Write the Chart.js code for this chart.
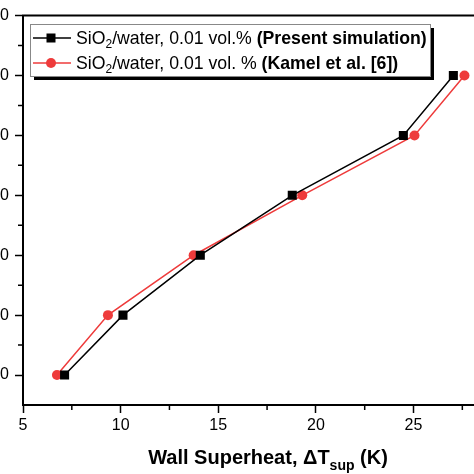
<!DOCTYPE html>
<html><head><meta charset="utf-8">
<script src="https://cdn.jsdelivr.net/npm/chart.js@4"></script>
<style>
html,body{margin:0;padding:0;width:474px;height:474px;overflow:hidden;background:#fff}
#wrap{position:absolute;left:-50px;top:0;width:540px;height:474px}
</style></head><body>
<div id="wrap"><canvas id="c" width="540" height="474"></canvas></div>
<script>
// Data
const simX = [7.13, 10.12, 14.08, 18.79, 24.48, 27.04];
const simY = [100, 200, 300, 400, 500, 600];
const kamelX = [6.74, 9.35, 13.74, 19.30, 25.05, 27.61];
const kamelY = [100, 200, 300, 400, 500, 600];
const xTicks = [5, 10, 15, 20, 25];
const xMinor = [7.5, 12.5, 17.5, 22.5, 27.5];
const yTicks = [100, 200, 300, 400, 500, 600, 700];
const yMinor = [150, 250, 350, 450, 550, 650];
const legendMain = ['/water, 0.01 vol.% ', '/water, 0.01 vol. % '];
const legendBold = ['(Present simulation)', '(Kamel et al. [6])'];
const xTitle = ['Wall Superheat, \u0394T', 'sup', ' (K)'];

const FONT = '"Liberation Sans", Arial, sans-serif';
const BLACK = '#000000';
const RED = '#ee3b3b';

const minorTicks = {
  id: 'minorTicks',
  afterDraw(chart) {
    const ctx = chart.ctx, xs = chart.scales.x, ys = chart.scales.y, a = chart.chartArea;
    ctx.save();
    ctx.strokeStyle = '#000'; ctx.lineWidth = 1.5;
    ctx.beginPath();
    xMinor.forEach(v => { const p = xs.getPixelForValue(v); ctx.moveTo(p, a.bottom); ctx.lineTo(p, a.bottom + 5); });
    yMinor.forEach(v => { const p = ys.getPixelForValue(v); ctx.moveTo(a.left, p); ctx.lineTo(a.left - 5, p); });
    ctx.stroke();
    // top frame
    ctx.lineWidth = 2;
    ctx.beginPath();
    ctx.moveTo(a.left - 1, a.top); ctx.lineTo(a.right, a.top); ctx.lineTo(a.right, a.bottom);
    ctx.stroke();
    // x title
    ctx.fillStyle = '#000';
    ctx.textBaseline = 'alphabetic';
    ctx.font = 'bold 20px ' + FONT;
    const w1 = ctx.measureText(xTitle[0]).width;
    const w3 = ctx.measureText(xTitle[2]).width;
    ctx.font = 'bold 14px ' + FONT;
    const w2 = ctx.measureText(xTitle[1]).width;
    const total = w1 + w2 + w3;
    let x = 318 - total / 2;
    const by = 464;
    ctx.font = 'bold 20px ' + FONT; ctx.fillText(xTitle[0], x, by); x += w1;
    ctx.font = 'bold 14px ' + FONT; ctx.fillText(xTitle[1], x, by + 6); x += w2;
    ctx.font = 'bold 20px ' + FONT; ctx.fillText(xTitle[2], x, by);
    // legend
    const bx = 80, byy = 24, bw = 400, bh = 52;
    ctx.fillStyle = '#000';
    ctx.fillRect(bx + 4, byy + 4, bw, bh);
    ctx.fillStyle = '#fff';
    ctx.fillRect(bx, byy, bw, bh);
    ctx.strokeStyle = '#888'; ctx.lineWidth = 1;
    ctx.strokeRect(bx + 0.5, byy + 0.5, bw, bh);
    const rows = [38, 63];
    chart.data.datasets.forEach((ds, i) => {
      const y = rows[i];
      ctx.strokeStyle = ds.borderColor; ctx.lineWidth = 1.5;
      ctx.beginPath(); ctx.moveTo(83, y); ctx.lineTo(121, y); ctx.stroke();
      ctx.fillStyle = ds.backgroundColor;
      if (ds.pointStyle === 'rect') { ctx.fillRect(101 - 4.5, y - 4.5, 9, 9); }
      else { ctx.beginPath(); ctx.arc(101, y, 5, 0, Math.PI * 2); ctx.fill(); }
      ctx.fillStyle = '#000';
      let tx = 126; const tb = y + 6;
      ctx.font = '17.7px ' + FONT; ctx.fillText('SiO', tx, tb); tx += ctx.measureText('SiO').width;
      ctx.font = '12px ' + FONT; ctx.fillText('2', tx, tb + 4); tx += ctx.measureText('2').width;
      ctx.font = '17.7px ' + FONT; ctx.fillText(legendMain[i], tx, tb); tx += ctx.measureText(legendMain[i]).width;
      ctx.font = 'bold 17.7px ' + FONT; ctx.fillText(legendBold[i], tx, tb);
    });
    ctx.restore();
  }
};

new Chart(document.getElementById('c'), {
  type: 'line',
  data: {
    datasets: [
      { label: 'SiO2/water, 0.01 vol.% (Present simulation)', data: simX.map((x, i) => ({ x, y: simY[i] })),
        borderColor: BLACK, backgroundColor: BLACK, borderWidth: 1.5, pointStyle: 'rect', pointRadius: 6.4,
        pointBorderWidth: 0, order: 0 },
      { label: 'SiO2/water, 0.01 vol. % (Kamel et al. [6])', data: kamelX.map((x, i) => ({ x, y: kamelY[i] })),
        borderColor: RED, backgroundColor: RED, borderWidth: 1.5, pointStyle: 'circle', pointRadius: 5,
        pointBorderWidth: 0, order: 1 }
    ]
  },
  options: {
    responsive: false, animation: false, devicePixelRatio: 1,
    layout: { padding: { top: 11, right: 14, left: 0, bottom: 0 } },
    plugins: { legend: { display: false }, tooltip: { enabled: false } },
    scales: {
      x: {
        type: 'linear', min: 5, max: 28.2,
        afterBuildTicks: s => { s.ticks = xTicks.map(v => ({ value: v })); },
        afterFit: s => { s.height = 69; },
        ticks: { color: '#000', font: { family: FONT, size: 16 }, padding: 3, maxRotation: 0 },
        grid: { drawOnChartArea: false, tickLength: 8, tickColor: '#000', tickWidth: 1.5 },
        border: { color: '#000', width: 2 }
      },
      y: {
        type: 'linear', min: 50, max: 700,
        afterBuildTicks: s => { s.ticks = yTicks.map(v => ({ value: v })); },
        afterFit: s => { s.width = 73; },
        ticks: { color: '#000', font: { family: FONT, size: 16 }, padding: 6 },
        grid: { drawOnChartArea: false, tickLength: 8, tickColor: '#000', tickWidth: 1.5 },
        border: { color: '#000', width: 2 }
      }
    }
  },
  plugins: [minorTicks]
});
</script>
</body></html>
